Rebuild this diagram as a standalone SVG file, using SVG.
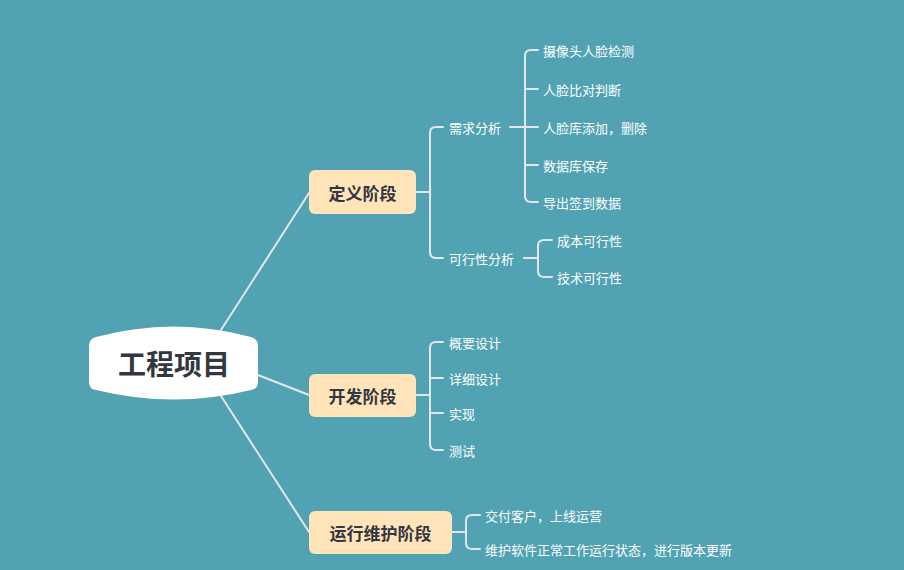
<svg xmlns="http://www.w3.org/2000/svg" width="904" height="570" viewBox="0 0 904 570">
<style>
.c{fill:none;stroke:#E3E6EA;stroke-width:2;stroke-linecap:round}
.n{fill:#FFE4B9}
.nt{font-family:"Noto Sans CJK SC",sans-serif;font-weight:bold;font-size:17px;fill:#333740;text-anchor:middle;dominant-baseline:central}
.lt{font-family:"Noto Sans CJK SC",sans-serif;font-size:13px;fill:#FFFFFF;dominant-baseline:central}
</style>
<rect width="904" height="570" fill="#51A3B3"/>
<g id="connectors">
<path class="c" d="M221 330 L309 193 M258 375 L309 395 M221 396 L309 532"/>
<path class="c" d="M416 192 H430 M443 127 H436 Q430 127 430 133 V252 Q430 258 436 258 H443"/>
<path class="c" d="M510 127 H538 M538 50 H531 Q525 50 525 56 V196 Q525 202 531 202 H538 M525 89 H538 M525 165 H538"/>
<path class="c" d="M524 258 H538 M552 240 H544 Q538 240 538 246 V271 Q538 277 544 277 H552"/>
<path class="c" d="M416 395 H430 M443 342 H436 Q430 342 430 348 V444 Q430 450 436 450 H443 M430 378 H443 M430 413 H443"/>
<path class="c" d="M452 532 H466 M480 515 H472 Q466 515 466 521 V543 Q466 549 472 549 H480"/>
</g>
<g id="root">
<path d="M96 337 Q174 316 251 337 Q258 339 258 346 V382 Q258 389 251 390 Q174 409 96 390 Q89 389 89 382 V346 Q89 339 96 337 Z" fill="#FFFFFF"/>
<text x="174" y="363" class="nt" style="font-size:28px">工程项目</text>
</g>
<g id="n1"><rect class="n" x="309" y="170" width="107" height="44" rx="6"/><text class="nt" x="362.5" y="192">定义阶段</text></g>
<g id="n2"><rect class="n" x="309" y="374" width="107" height="43" rx="6"/><text class="nt" x="362.5" y="395">开发阶段</text></g>
<g id="n3"><rect class="n" x="309" y="511" width="143" height="43" rx="6"/><text class="nt" x="380.5" y="532">运行维护阶段</text></g>
<g id="leaves">
<text class="lt" x="449" y="127">需求分析</text>
<text class="lt" x="449" y="258">可行性分析</text>
<text class="lt" x="543" y="50">摄像头人脸检测</text>
<text class="lt" x="543" y="89">人脸比对判断</text>
<text class="lt" x="543" y="127">人脸库添加，删除</text>
<text class="lt" x="543" y="165">数据库保存</text>
<text class="lt" x="543" y="202">导出签到数据</text>
<text class="lt" x="557" y="240">成本可行性</text>
<text class="lt" x="557" y="277">技术可行性</text>
<text class="lt" x="449" y="342">概要设计</text>
<text class="lt" x="449" y="378">详细设计</text>
<text class="lt" x="449" y="413">实现</text>
<text class="lt" x="449" y="450">测试</text>
<text class="lt" x="485" y="515">交付客户，上线运营</text>
<text class="lt" x="485" y="549">维护软件正常工作运行状态，进行版本更新</text>
</g>
</svg>
